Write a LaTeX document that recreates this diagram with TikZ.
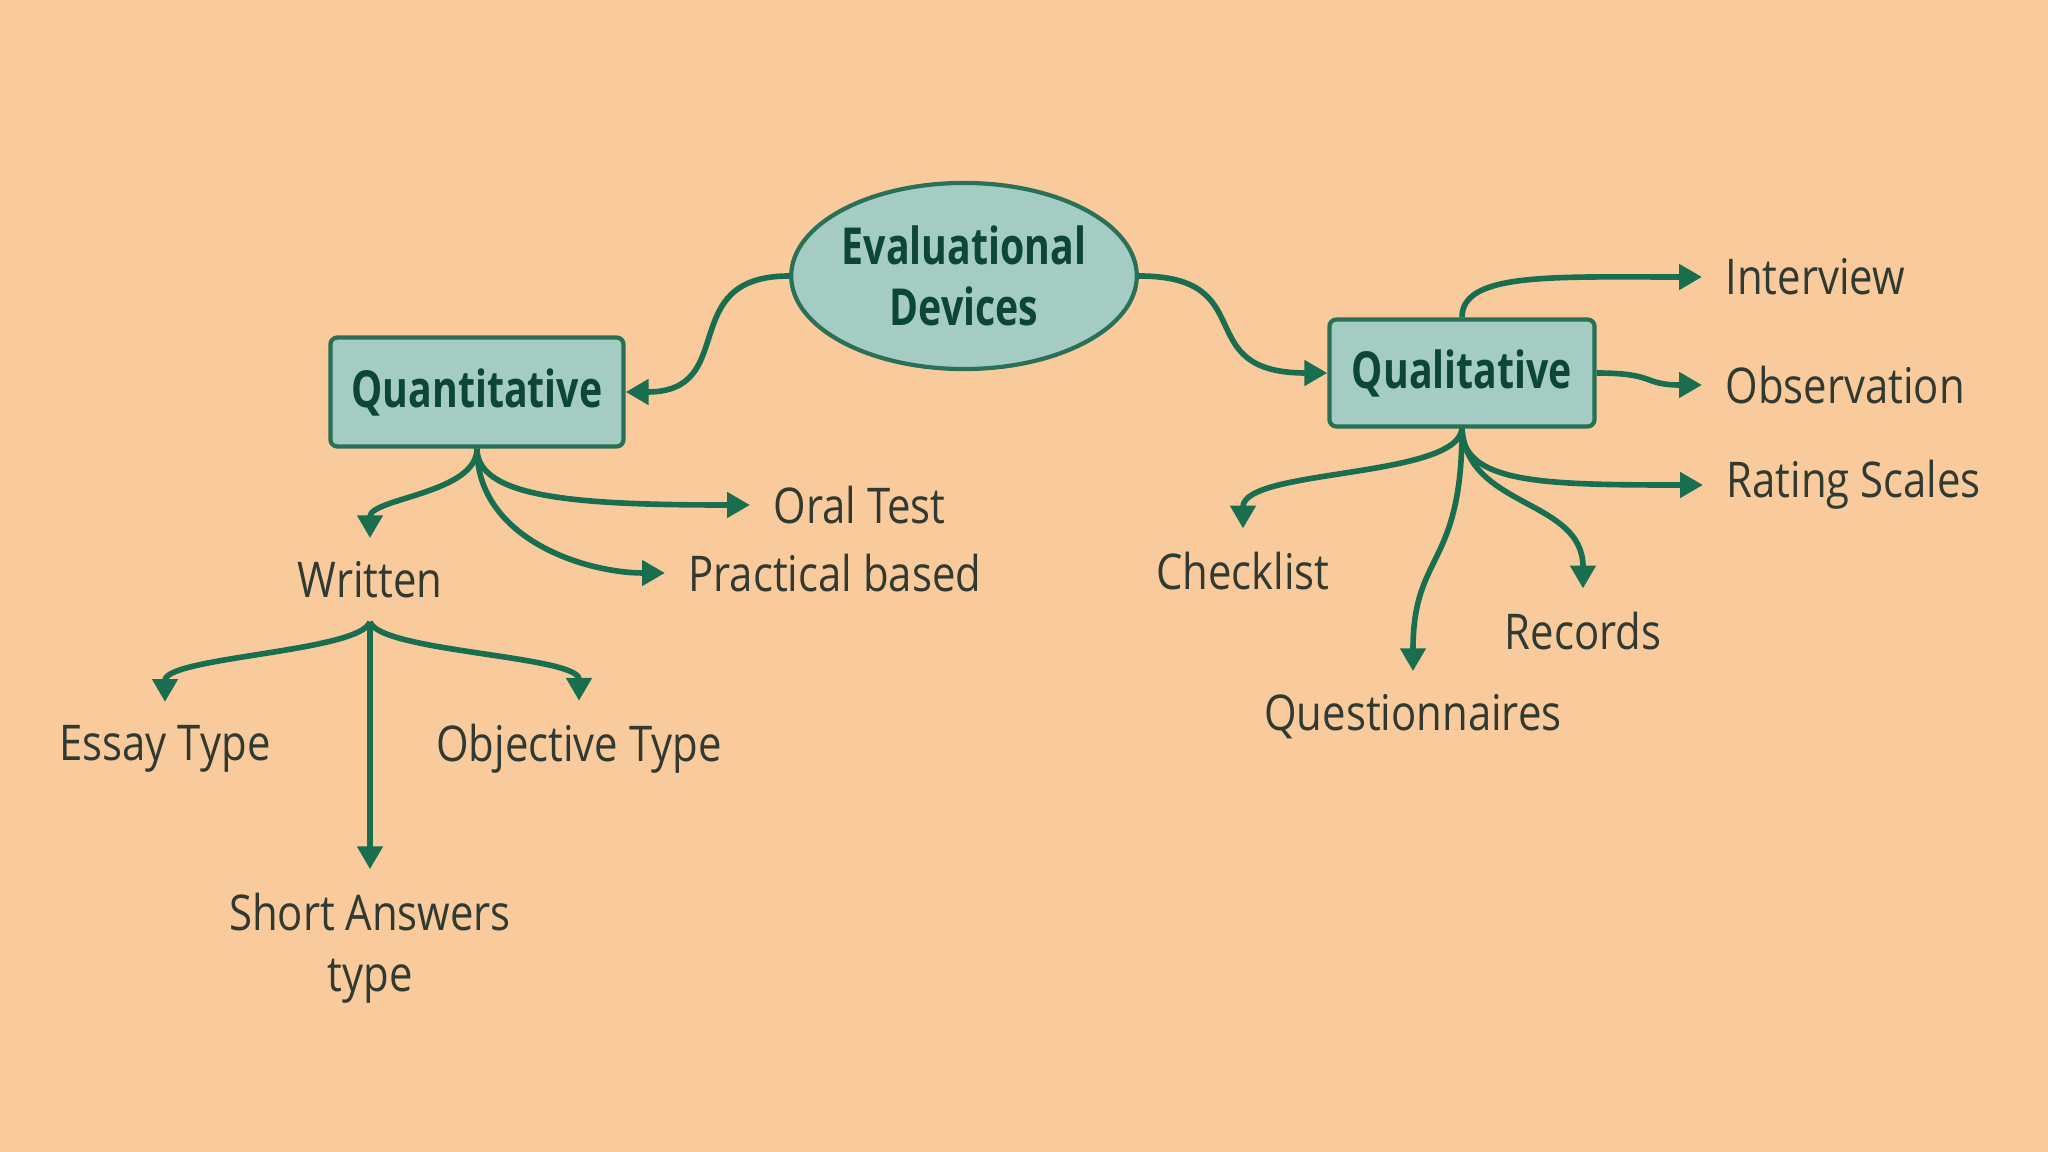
\documentclass[tikz,border=0pt]{standalone}
\usepackage{fontspec}
\setmainfont{Open Sans}[FakeStretch=0.85]
\newfontfamily\headfont{Open Sans}[FakeStretch=0.77]
\usetikzlibrary{arrows.meta,shapes.geometric}
\definecolor{bgpeach}{RGB}{249,203,156}
\definecolor{boxfill}{RGB}{164,204,194}
\definecolor{boxline}{RGB}{40,112,86}
\definecolor{arrowgreen}{RGB}{26,110,80}
\definecolor{headtext}{RGB}{12,70,55}
\definecolor{labeltext}{RGB}{48,58,50}
\tikzset{
  headbox/.style={draw=boxline, line width=1.2pt, fill=boxfill, rounded corners=2pt,
    minimum width=2.93cm, minimum height=1.09cm, inner sep=0pt,
    font=\headfont\fontsize{14.5}{17.4}\selectfont\bfseries, text=headtext},
  headell/.style={ellipse, draw=boxline, line width=1.2pt, fill=boxfill,
    minimum width=3.44cm, minimum height=1.86cm, inner sep=0pt, align=center,
    font=\headfont\fontsize{14.5}{17.4}\selectfont\bfseries, text=headtext},
  lbl/.style={font=\fontsize{14}{17.4}\selectfont, text=labeltext, inner sep=6.5pt, align=center},
  conn/.style={draw=arrowgreen, line width=1.6pt, -{Triangle[length=6.5pt,width=7pt]}},
}
\begin{document}
\begin{tikzpicture}[x=0.01cm,y=-0.01cm]
\fill[bgpeach] (0,0) rectangle (2048,1152);
\useasboundingbox (0,0) rectangle (2048,1152);

\node[headell] (eval) at (964,276) {Evaluational\\Devices};
\node[headbox] (quant) at (477,392) {Quantitative};
\node[headbox, minimum width=2.65cm, minimum height=1.07cm] (qual) at (1462,373) {Qualitative};

\node[lbl, anchor=west] (oral) at (750,505) {Oral Test};
\node[lbl, anchor=west] (prac) at (665,573) {Practical based};
\node[lbl] (written) at (370,580) {Written};
\node[lbl] (essay) at (165,749) {Essay Type};
\node[lbl] (objective) at (579,749) {Objective Type};
\node[lbl] (short) at (370,948) {Short Answers\\type};

\node[lbl, anchor=west] (interview) at (1702,277) {Interview};
\node[lbl, anchor=west] (observ) at (1702,385) {Observation};
\node[lbl, anchor=west] (rating) at (1703,485) {Rating Scales};
\node[lbl] (check) at (1243,571) {Checklist};
\node[lbl] (records) at (1583,631) {Records};
\node[lbl] (quest) at (1413,717) {Questionnaires};

% top level
\draw[conn] (eval.west) .. controls +(-115,0) and +(115,0) .. (quant.east);
\draw[conn] (eval.east) .. controls +(125,0) and +(-140,0) .. (qual.west);

% quantitative branches
\draw[conn] (quant.south) .. controls +(0,45) and +(0,-40) .. (written.north);
\draw[conn] (quant.south) .. controls +(0,50) and +(-170,0) .. (oral.west);
\draw[conn] (quant.south) .. controls +(0,90) and +(-80,0) .. (prac.west);

% written branches
\draw[conn] (written.south) .. controls +(-10,30) and +(0,-45) .. (essay.north);
\draw[conn] (written.south) .. controls +(10,30) and +(0,-45) .. (objective.north);
\draw[conn] (written.south) -- (short.north);

% qualitative branches
\draw[conn] (qual.north) .. controls +(0,-45) and +(-150,0) .. (interview.west);
\draw[conn] (qual.east) .. controls +(60,0) and +(-60,0) .. (observ.west);
\draw[conn] (qual.south) .. controls +(0,55) and +(-160,0) .. (rating.west);
\draw[conn] (qual.south) .. controls +(-5,50) and +(0,-60) .. (check.north);
\draw[conn] (qual.south) .. controls +(5,80) and +(0,-90) .. (records.north);
\draw[conn] (qual.south) .. controls +(0,140) and +(0,-120) .. (quest.north);
\end{tikzpicture}
\end{document}
